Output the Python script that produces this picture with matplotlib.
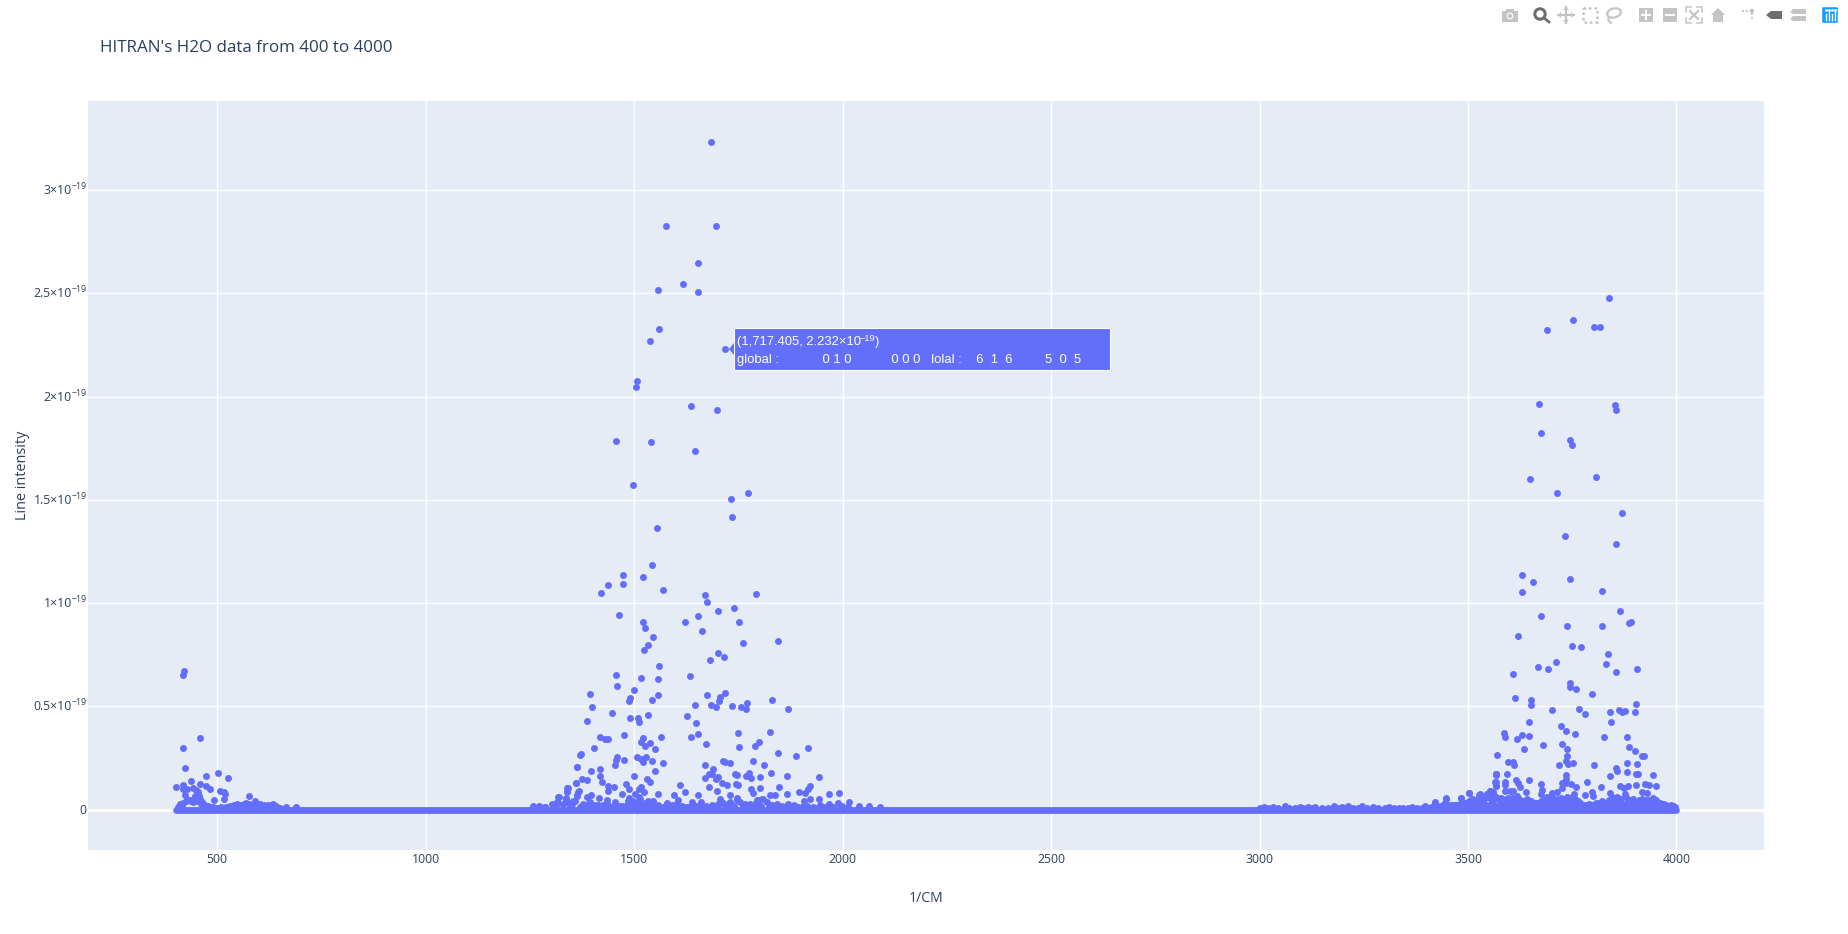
import numpy as np
import matplotlib
matplotlib.use('Agg')
import matplotlib.pyplot as plt
from matplotlib.patches import Rectangle, Circle, Polygon, FancyBboxPatch, Ellipse
from matplotlib.lines import Line2D
from matplotlib.transforms import Affine2D

# (wavenumber in 1/cm, line intensity in units of 1e-19)
UNIT = 1e-19

left_band = [
    (419.3, .673), (417.7, .651), (457.6, .349), (418.5, .297), (422.5, .200), (472, .165), (501.6, .176),
    (525.6, .155), (436, .141), (400, .108), (417, .121), (418.5, .100), (426.5, .100), (442.5, .103),
    (457.6, .126), (472, .115), (483.2, .102), (448.9, .095), (452.9, .087), (506.4, .091), (516, .087),
    (519, .076), (516.8, .053), (422.5, .070), (446.5, .066), (456.9, .066), (458.5, .050), (417, .034),
    (434.5, .047), (442.5, .039), (463.2, .037), (491.2, .047), (575.2, .065), (591.2, .042), (568.8, .031),
    (548, .026), (634.4, .026), (622.4, .023), (602.4, .026), (534.4, .018), (466.5, .020), (482.5, .015),
    (666, .012), (688.7, .015),
]

left_low = [
    (405, .015), (410, .03), (415, .02), (425, .04), (430, .045), (438, .04), (445, .05), (450, .04),
    (455, .045), (462, .03), (470, .025), (478, .02), (490, .015), (500, .01), (510, .012), (520, .015),
    (530, .02), (540, .025), (555, .025), (565, .03), (575, .03), (585, .025), (595, .03), (605, .02),
    (612, .025), (628, .025), (640, .018), (650, .008), (690, .01),
]

mid_band = [
    (1258, .020), (1271, .020), (1286, .015), (1302, .028), (1319, .063), (1314, .036), (1336, .055),
    (1339, .104), (1338, .087), (1360, .128), (1363, .207), (1362, .068), (1370, .265), (1366, .087),
    (1684.3, 3.232), (1575.6, 2.827), (1695.5, 2.827), (1653.1, 2.646), (1616.3, 2.547), (1558, 2.518),
    (1652.3, 2.509), (1560.3, 2.326), (1538.8, 2.268), (1717.4, 2.232), (1506.8, 2.074), (1505.2, 2.047),
    (1635.5, 1.957), (1699.5, 1.937), (1456.4, 1.784), (1540.4, 1.779), (1645.9, 1.739), (1496.4, 1.574),
    (1772.3, 1.532), (1733, 1.506), (1733.9, 1.416), (1554, 1.363), (1541.9, 1.183), (1472.4, 1.137),
    (1521.2, 1.127), (1436.4, 1.088), (1473.2, 1.095), (1419.6, 1.049), (1569.2, 1.066), (1669.1, 1.040),
    (1674.7, 1.006), (1792.2, 1.045), (1700.3, .962), (1739.5, .978), (1653.9, .940), (1464.4, .941),
    (1622.7, .909), (1751.5, .909), (1521.2, .907), (1525.2, .882), (1662.7, .865), (1545.2, .835),
    (1844.2, .819), (1761.9, .809), (1534, .798), (1522.8, .772), (1700.3, .759), (1714.7, .738),
    (1682.7, .723), (1559.6, .694), (1456.4, .651), (1634.7, .648), (1517.2, .636), (1557.2, .631),
    (1458, .601), (1498.8, .580), (1718.7, .567), (1394, .562), (1557.2, .554), (1675.5, .556),
    (1706.7, .546), (1830.6, .533), (1490.8, .541), (1486.8, .527), (1542, .531), (1704.3, .528),
    (1771.4, .515), (1646.7, .507), (1683.5, .506), (1695.5, .498), (1733.9, .504), (1756.3, .498),
    (1768.3, .489), (1869, .489), (1398.8, .498), (1447.6, .468), (1489.2, .444), (1533.2, .459),
    (1508.4, .444), (1511.6, .425), (1627.5, .452), (1647.5, .418), (1386.8, .428), (1653.1, .368),
    (1748.3, .370), (1825, .378), (1637.1, .351), (1475.6, .362), (1564.4, .352), (1418.8, .351),
    (1430, .344), (1437.2, .344), (1520.4, .347), (1517.2, .328), (1538.8, .325), (1526.8, .309),
    (1671.5, .317), (1799.4, .330), (1790.6, .309), (1750.7, .302), (1550, .296), (1404.4, .297),
    (1373.2, .270), (1844.2, .273), (1917.8, .301), (1889, .260), (1528.4, .257), (1506, .254),
    (1515.6, .244), (1520.4, .230), (1543.6, .236), (1568.4, .228), (1458.8, .254), (1457.2, .241),
    (1454.8, .218), (1476.4, .241), (1713.1, .238), (1717.9, .231), (1729.9, .228), (1785, .236),
    (1669.1, .215), (1810.6, .217), (1362.9, .207), (1395.6, .189), (1418.8, .197), (1689.9, .199),
    (1549.2, .188), (1678.7, .175), (1687.5, .175), (1742.7, .175), (1746.7, .170), (1829, .178),
    (1775.5, .178), (1768.3, .163), (1867.4, .163), (1942.6, .159), (1417.2, .163), (1498.8, .162),
    (1374.8, .150), (1386.8, .144), (1669.9, .152), (1700.3, .160), (1697.1, .150), (1801.8, .157),
    (1779.5, .152), (1531.6, .149), (1538, .134), (1423.6, .134), (1361.3, .128), (1709.9, .131),
    (1722.7, .118), (1743.5, .125), (1749.1, .120), (1609.2, .118), (1679.5, .112), (1481.2, .123),
    (1437.2, .115), (1451.6, .109), (1340.5, .105), (1338.9, .089), (1488.4, .102), (1510.8, .102),
    (1516.4, .110), (1801, .104), (1847.4, .109), (1780.2, .102), (1922.6, .117), (1917, .099),
    (1895.4, .086), (1909.8, .081), (1368.5, .089), (1436.4, .089), (1621.9, .087), (1699.5, .089),
    (1785, .079), (1524.4, .084), (1558, .078), (1471.6, .078), (1363.7, .070), (1397.2, .071),
    (1502, .075), (1594.8, .073), (1652.3, .071), (1729.9, .073), (1825, .073), (1837.8, .070),
    (1866.6, .078), (1967.3, .076), (1992.2, .079), (1318.1, .062), (1386.8, .060), (1416.4, .059),
    (1488.4, .057), (1485.2, .044), (1510.8, .060), (1943.4, .054), (1922.6, .054), (1908.2, .042),
    (1706.7, .054), (1747.5, .055), (1336.5, .054), (1434, .046), (1454.8, .038), (1546, .044),
    (1534, .044), (1605.1, .046), (1639.5, .036), (1661.1, .039), (1729.9, .037), (1795.4, .046),
    (1807.4, .054), (2016.1, .039), (1577.9, .033), (1318.1, .034), (1378, .029), (1286.9, .013),
    (2040.1, .018), (2064.1, .017), (1988.1, .031), (1966.6, .026), (1945.8, .023), (1884.2, .024),
    (1869, .026), (1841.8, .029), (1778.7, .028), (1687.5, .024), (1620.3, .015), (1554.8, .016),
    (1474, .018), (1410, .023), (2089.7, .012), (1338, .039), (1354, .041), (1358, .044), (1394, .037),
    (1430, .023), (1510, .039), (1514, .050), (1590, .023), (1602, .031), (1710, .031), (1746, .048),
    (1754, .039), (1794, .031), (1818, .036),
]

mid_low = [
    (1274, .015), (1306, .012), (1330, .03), (1350, .03), (1390, .03), (1402, .025), (1414, .025),
    (1426, .025), (1438, .025), (1466, .02), (1486, .03), (1498, .04), (1522, .035), (1558, .025),
    (1570, .015), (1614, .02), (1626, .015), (1650, .02), (1672, .018), (1702, .03), (1712, .035),
    (1722, .02), (1731, .035), (1766, .03), (1790, .03), (1798, .045), (1808, .05), (1830, .025),
    (1854, .02), (1902, .015), (1914, .02), (1930, .012), (1998, .018), (2014, .012),
    (1345, .015), (1370, .015), (1382, .015), (1445, .015), (1458, .015), (1480, .015), (1492, .02),
    (1504, .02), (1516, .02), (1528, .02), (1540, .02), (1552, .015), (1582, .015), (1596, .012),
    (1608, .015), (1632, .015), (1644, .018), (1658, .015), (1680, .012), (1694, .015), (1740, .02),
    (1760, .018), (1772, .015), (1784, .012), (1804, .018), (1824, .015), (1848, .012), (1862, .012),
    (1876, .012), (1892, .012), (1938, .01), (1956, .012), (1976, .012),
]

right_band = [
    (3011, .012), (3032, .012), (3061, .016), (3097, .015), (3117, .015), (3133, .015), (3179, .016),
    (3197, .015), (3213, .016), (3245, .016), (3273, .015), (3311, .012), (3335, .010), (3365, .012),
    (3397, .016), (3420.3, .034), (3447.5, .053), (3445, .031), (3483, .058), (3503.5, .079), (3509, .050),
    (3527.5, .073), (3546.7, .076), (3553, .092), (3561, .079), (3567.5, .171), (3566, .136), (3566, .115),
    (3465, .023), (3489, .031), (3537, .047),
    (3838.6, 2.480), (3753, 2.371), (3689.1, 2.323), (3801.8, 2.339), (3817, 2.338), (3670.7, 1.965),
    (3853, 1.958), (3855.4, 1.936), (3676.3, 1.826), (3745, 1.790), (3749.8, 1.766), (3649.1, 1.602),
    (3807.4, 1.610), (3712.3, 1.535), (3870.6, 1.437), (3732.2, 1.324), (3854.6, 1.287), (3629.1, 1.137),
    (3656.3, 1.104), (3745, 1.116), (3629.9, 1.054), (3822.6, 1.061), (3865.8, .961), (3675.5, .938),
    (3886.6, .903), (3891.4, .907), (3737, .888), (3821, .891), (3619.5, .841), (3749.8, .793),
    (3770.6, .788), (3835.4, .756), (3832.2, .706), (3709.9, .714), (3669.1, .690), (3691.5, .681),
    (3854.6, .669), (3904.2, .683), (3609.1, .656), (3744.2, .612), (3745.8, .594), (3760.2, .585),
    (3797, .560), (3612.3, .543), (3652.3, .533), (3651.5, .507), (3902.6, .514), (3701.9, .481),
    (3766.6, .489), (3780.2, .462), (3841.8, .472), (3861.8, .481), (3869.8, .475), (3875.4, .478),
    (3900.2, .472), (3844.2, .423), (3647.5, .423), (3722.6, .407), (3735.4, .381), (3586.7, .372),
    (3589.1, .352), (3629.9, .360), (3647.5, .359), (3617.9, .341), (3757, .368), (3827.4, .354),
    (3881, .352), (3679.5, .314), (3726.6, .318), (3737, .296), (3633.9, .296), (3886.6, .304),
    (3899.4, .284), (3569.1, .267), (3738.6, .262), (3918.5, .262), (3921.7, .262), (3595.5, .231),
    (3607.5, .230), (3609.9, .217), (3719.4, .217), (3735.4, .236), (3741, .221), (3753, .228),
    (3803.4, .217), (3881, .225), (3905, .223), (3854.6, .204), (3857.8, .189), (3881, .181),
    (3901.8, .173), (3906.6, .173), (3943.3, .170), (3840.2, .165), (3567.5, .175), (3567.5, .167),
    (3593.9, .173), (3734.6, .168), (3734.6, .149), (3646.7, .142), (3785, .136), (3565.9, .136),
    (3589.1, .136), (3589.1, .120), (3566.7, .113), (3614.7, .146), (3621.1, .128), (3625.1, .110),
    (3674.7, .123), (3725, .128), (3734.6, .130), (3747.4, .126), (3726.6, .105), (3759.4, .112),
    (3820.2, .112), (3865, .115), (3873.8, .104), (3884.2, .115), (3902.6, .118), (3925.7, .123),
    (3933, .120), (3950.5, .117), (3677.1, .097), (3675.5, .078), (3714.6, .086), (3701.9, .079),
    (3638.7, .084), (3588.3, .089), (3601.9, .092), (3607.5, .091), (3553.1, .092), (3546.7, .075),
    (3529.1, .075), (3503.6, .081), (3482.8, .059), (3447.6, .055), (3420.4, .036), (3442.8, .029),
    (3798.6, .086), (3800.2, .066), (3780.2, .070), (3754.6, .075), (3841, .079), (3845, .062),
    (3857, .063), (3877, .076), (3877.8, .060), (3917.8, .086), (3929.7, .083), (3944.9, .057),
    (3561.1, .084), (3566.7, .060), (3617.1, .068), (3615.5, .054), (3642.7, .052), (3690.7, .062),
    (3733, .050), (3509.2, .050), (3527.5, .060), (3597.1, .057), (3905, .039), (3893, .044),
    (3821, .041), (3969, .026), (3991.3, .018), (3996.9, .012), (3933, .047), (3465, .023),
    (3489, .031), (3513, .044), (3537, .047), (3557, .039), (3577, .039), (3601, .039), (3629, .034),
    (3649, .031), (3669, .031), (3689, .044), (3709, .044), (3729, .054), (3749, .054), (3769, .034),
    (3797, .023), (3821, .034), (3845, .026), (3865, .039), (3881, .034), (3921, .039), (3937, .044),
    (3953, .031), (3981, .015),
]

right_low = [
    (3002, .008), (3020, .008), (3045, .008), (3070, .01), (3085, .008), (3105, .01), (3125, .01),
    (3150, .008), (3165, .008), (3190, .01), (3205, .01), (3225, .008), (3235, .01), (3258, .01),
    (3285, .008), (3300, .008), (3322, .008), (3345, .008), (3355, .008), (3378, .008), (3390, .01),
    (3412, .015), (3425, .018), (3436, .02), (3450, .02), (3458, .022), (3472, .025), (3480, .028),
    (3494, .035), (3502, .04), (3516, .045), (3524, .05), (3532, .05), (3540, .055), (3548, .06),
    (3556, .05), (3564, .055), (3572, .05), (3580, .055), (3590, .05), (3598, .05), (3606, .055),
    (3614, .04), (3622, .05), (3632, .04), (3640, .035), (3650, .04), (3658, .035), (3666, .035),
    (3674, .04), (3682, .045), (3696, .05), (3704, .055), (3716, .05), (3724, .055), (3738, .06),
    (3744, .055), (3756, .05), (3764, .04), (3772, .03), (3780, .025), (3790, .03), (3806, .035),
    (3814, .035), (3830, .035), (3838, .045), (3850, .05), (3858, .045), (3868, .05), (3888, .045),
    (3896, .05), (3910, .045), (3918, .05), (3926, .045), (3944, .05), (3952, .045), (3960, .035),
    (3966, .03), (3976, .025), (3986, .025), (3992, .02),
    (3500, .018), (3510, .02), (3520, .02), (3530, .022), (3542, .022), (3552, .025), (3562, .025),
    (3574, .025), (3584, .025), (3594, .025), (3604, .025), (3612, .022), (3624, .025), (3636, .02),
    (3646, .02), (3656, .02), (3664, .018), (3672, .02), (3680, .022), (3692, .025), (3700, .025),
    (3712, .025), (3722, .028), (3732, .028), (3742, .028), (3752, .025), (3760, .022), (3776, .015),
    (3786, .015), (3796, .015), (3804, .018), (3812, .018), (3826, .018), (3836, .022), (3848, .025),
    (3856, .022), (3866, .025), (3876, .022), (3886, .022), (3894, .025), (3904, .022), (3914, .025),
    (3924, .022), (3934, .025), (3942, .025), (3950, .022), (3958, .018),
]

# the thousands of near zero lines merge into one solid band
baseline_x = [400, 4000]
baseline_y = [0, 0]

x_ticks = [500, 1000, 1500, 2000, 2500, 3000, 3500, 4000]
y_ticks = [0, 0.5, 1, 1.5, 2, 2.5, 3]
y_tick_labels = ['0', '0.5', '1', '1.5', '2', '2.5', '3']

BLUE = '#636efa'
INK = '#2a3f5f'
W, H = 1849, 934

plt.rcParams['font.family'] = ['Open Sans', 'DejaVu Sans']

fig = plt.figure(figsize=(W / 100, H / 100), dpi=100)
ax = fig.add_axes([88 / W, 1 - 850 / H, (1764 - 88) / W, (850 - 101) / H])
ax.set_facecolor('#e5ecf6')
for s in ax.spines.values():
    s.set_visible(False)

ax.set_xlim(190, 4210)
ax.set_ylim(-0.195 * UNIT, 3.432 * UNIT)
ax.set_xticks(x_ticks)
ax.set_yticks([v * UNIT for v in y_ticks])
ax.set_yticklabels([])
ax.tick_params(length=0, labelsize=8.8, colors=INK, pad=2.5)
ax.grid(True, color='white', lw=1)
ax.set_axisbelow(True)
ax.axhline(0, color='white', lw=2, zorder=1)

# plotly sets the exponent as a small raised run, so base and exponent are two texts
for v, lab in zip(y_ticks, y_tick_labels):
    if v == 0:
        ax.annotate(lab, (0, 0), xycoords=ax.get_yaxis_transform(), xytext=(-2, -0.5), textcoords='offset pixels',
                    ha='right', va='center', fontsize=8.8, color=INK)
        continue
    ax.annotate(lab + '×10', (0, v * UNIT), xycoords=ax.get_yaxis_transform(), xytext=(-16, -0.5),
                textcoords='offset pixels', ha='right', va='center', fontsize=8.8, color=INK)
    ax.annotate('−19', (0, v * UNIT), xycoords=ax.get_yaxis_transform(), xytext=(-1, 3.5),
                textcoords='offset pixels', ha='right', va='center', fontsize=6.3, color=INK)

ax.plot(baseline_x, [v * UNIT for v in baseline_y], color=BLUE, lw=4.9, solid_capstyle='round', zorder=3)
for band in (left_band, left_low, mid_band, mid_low, right_band, right_low):
    xs, ys = zip(*band)
    ax.plot(xs, np.array(ys) * UNIT, ls='None', marker='o', ms=5, mec='none', color=BLUE, zorder=3)

fig.text(100 / W, 1 - 47.5 / H, "HITRAN's H2O data from 400 to 4000", fontsize=12.25, color=INK, va='center')
fig.text(926 / W, 1 - 898 / H, '1/CM', fontsize=10.1, color=INK, ha='center', va='center')
fig.text(23 / W, 1 - 475 / H, 'Line intensity', fontsize=10.4, color=INK, rotation=90, ha='center', va='center')

# everything below is placed in screen pixels, y down
px = Affine2D().scale(1, -1).translate(0, H)


def add(p):
    p.set_transform(px)
    p.set_clip_on(False)
    fig.add_artist(p)


# hover label
add(Polygon([(729, 349), (734, 343), (734, 355)], closed=True, fc=BLUE, ec='none'))
add(Rectangle((734, 328), 376, 42, fc=BLUE, ec='white', lw=0.8))
hover_font = ['Liberation Sans', 'DejaVu Sans']
fig.text(737.5 / W, 1 - 342.5 / H, '(1,717.405, 2.232×10', fontsize=9.4, color='white', va='center', family=hover_font)
fig.text(860 / W, 1 - 338.5 / H, '−19', fontsize=6.6, color='white', va='center', family=hover_font)
fig.text(875 / W, 1 - 342.5 / H, ')', fontsize=9.4, color='white', va='center', family=hover_font)
fig.text(737 / W, 1 - 359.5 / H, 'global :' + ' ' * 12 + '0 1 0' + ' ' * 11 + '0 0 0' + ' ' * 3 + 'lolal :' + ' ' * 4
         + '6  1  6' + ' ' * 9 + '5  0  5', fontsize=9.4, color='white', va='center', family=hover_font)

# modebar icons
G = '#c4c4c4'
D = '#6e6e6e'
# camera
add(Rectangle((1502, 11), 16, 11, fc=G, ec='none'))
add(Rectangle((1506, 9), 8, 3, fc=G, ec='none'))
add(Circle((1510, 16), 3.4, fc='white', ec='none'))
add(Circle((1510, 16), 2.2, fc=G, ec='none'))
# zoom, active
add(Circle((1540, 14), 5.2, fc='none', ec=D, lw=2.2))
add(Line2D([1544, 1549], [18, 22], color=D, lw=2))
# pan
add(Line2D([1558, 1574], [15, 15], color=G, lw=1.6))
add(Line2D([1566, 1566], [7, 23], color=G, lw=1.6))
for tri in ([(1566, 7), (1563, 10), (1569, 10)], [(1566, 23), (1563, 20), (1569, 20)],
            [(1558, 15), (1561, 12), (1561, 18)], [(1574, 15), (1571, 12), (1571, 18)]):
    add(Polygon(tri, closed=True, fc=G, ec='none'))
# box select
add(Rectangle((1583, 8), 14, 14, fc='none', ec=G, lw=1.8, ls=(0, (1, 1.2))))
# lasso
add(Ellipse((1614, 13), 14, 9, angle=-15, fc='none', ec=G, lw=1.6))
add(Line2D([1609, 1608, 1611], [17, 20, 23], color=G, lw=1.4))
# zoom in, zoom out
add(Rectangle((1639, 8), 14, 14, fc=G, ec='none'))
add(Rectangle((1645, 10), 2, 10, fc='white', ec='none'))
add(Rectangle((1641, 14), 10, 2, fc='white', ec='none'))
add(Rectangle((1663, 8), 14, 14, fc=G, ec='none'))
add(Rectangle((1665, 14), 10, 2, fc='white', ec='none'))
# autoscale
for xx, yy in (((1686, 1686, 1691), (12, 7, 7)), ((1697, 1702, 1702), (7, 7, 12)),
               ((1686, 1686, 1691), (18, 23, 23)), ((1697, 1702, 1702), (23, 23, 18))):
    add(Line2D(xx, yy, color=G, lw=1.1))
add(Line2D([1690, 1698], [11, 19], color=G, lw=1.5))
add(Line2D([1690, 1698], [19, 11], color=G, lw=1.5))
# home
add(Polygon([(1711, 15), (1718, 8), (1725, 15)], closed=True, fc=G, ec='none'))
add(Rectangle((1713, 15), 10, 7, fc=G, ec='none'))
# spike lines
add(Circle((1752, 11), 2.2, fc=G, ec='none'))
add(Line2D([1742, 1750], [11, 11], color=G, lw=1.4, ls=(0, (1, 1))))
add(Line2D([1752, 1752], [13, 21], color=G, lw=1.4, ls=(0, (1, 1))))
# hover closest, active, and compare
add(Polygon([(1766, 15), (1771, 11), (1782, 11), (1782, 19), (1771, 19)], closed=True, fc=D, ec='none'))
add(Polygon([(1790, 12), (1793, 9), (1806, 9), (1806, 14), (1793, 14)], closed=True, fc=G, ec='none'))
add(Polygon([(1790, 19), (1793, 16), (1806, 16), (1806, 21), (1793, 21)], closed=True, fc=G, ec='none'))
# plotly logo
add(FancyBboxPatch((1823, 8), 14, 14, boxstyle='round,pad=0.8,rounding_size=1', fc='#119dff', ec='none'))
for bx, top in ((1826, 14), (1829, 11), (1832, 14), (1835, 11)):
    add(Line2D([bx, bx], [top, 20], color='white', lw=1))
for bx in (1826, 1829, 1832, 1835):
    add(Line2D([bx], [10], color='white', lw=0, marker='o', ms=1))

fig.savefig('out.png', dpi=100, facecolor='white')
